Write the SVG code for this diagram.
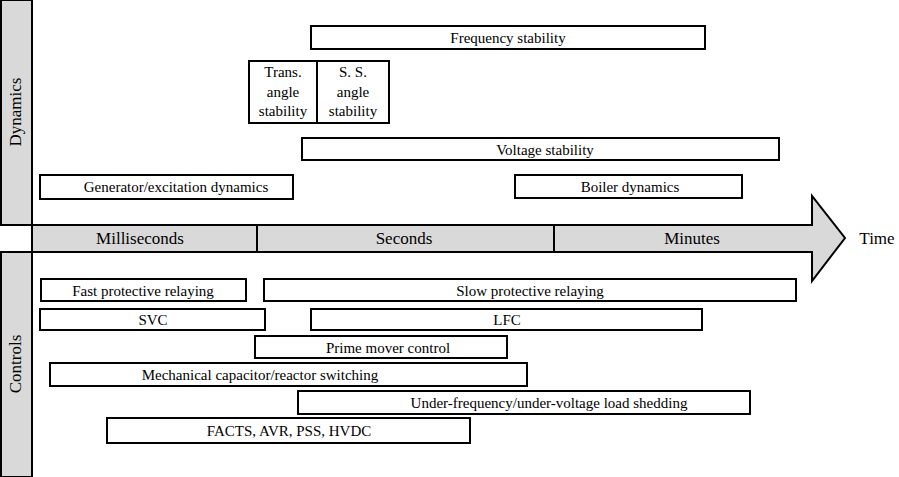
<svg xmlns="http://www.w3.org/2000/svg" width="899" height="477" viewBox="0 0 899 477">
<style>
text{font-family:"Liberation Serif","DejaVu Serif",serif;font-size:15px;fill:#000;text-anchor:middle}
.b{fill:#fff;stroke:#000;stroke-width:2}
.g{fill:#d9d9d9;stroke:#000;stroke-width:2}
.big{font-size:17px}
</style>
<rect width="899" height="477" fill="#fff"/>
<g id="dynamics"><rect class="g" x="1" y="0" width="31" height="225"/><text class="big" transform="translate(21,112) rotate(-90)">Dynamics</text></g>
<g id="controls"><rect class="g" x="1" y="252" width="31" height="225"/><text class="big" transform="translate(21,364) rotate(-90)">Controls</text></g>
<g id="timeaxis">
<path class="g" d="M32,225 H812 V196 L845,238 L812,281 V252 H32 Z"/>
<line x1="257" y1="225" x2="257" y2="252" stroke="#000" stroke-width="2"/>
<line x1="554" y1="225" x2="554" y2="252" stroke="#000" stroke-width="2"/>
<text class="big" x="140" y="244">Milliseconds</text>
<text class="big" x="404" y="244">Seconds</text>
<text class="big" x="692" y="244">Minutes</text>
<text class="big" x="877" y="244">Time</text>
</g>
<g id="freq"><rect class="b" x="311" y="26" width="394" height="23"/><text x="508" y="43">Frequency stability</text></g>
<g id="trans"><rect class="b" x="249" y="61" width="68" height="62"/><text x="283" y="77">Trans.</text><text x="283" y="97">angle</text><text x="283" y="116">stability</text></g>
<g id="ss"><rect class="b" x="317" y="61" width="72" height="62"/><text x="353" y="77">S. S.</text><text x="353" y="97">angle</text><text x="353" y="116">stability</text></g>
<g id="volt"><rect class="b" x="302" y="138" width="477" height="22"/><text x="545" y="155">Voltage stability</text></g>
<g id="gen"><rect class="b" x="40" y="175" width="253" height="24"/><text x="176" y="192">Generator/excitation dynamics</text></g>
<g id="boiler"><rect class="b" x="515" y="175" width="227" height="23"/><text x="630" y="192">Boiler dynamics</text></g>
<g id="fast"><rect class="b" x="41" y="279" width="205" height="22"/><text x="143" y="296">Fast protective relaying</text></g>
<g id="slow"><rect class="b" x="264" y="279" width="532" height="22"/><text x="530" y="296">Slow protective relaying</text></g>
<g id="svc"><rect class="b" x="40" y="309" width="225" height="21"/><text x="153" y="325">SVC</text></g>
<g id="lfc"><rect class="b" x="311" y="309" width="391" height="21"/><text x="507" y="325">LFC</text></g>
<g id="prime"><rect class="b" x="255" y="336" width="252" height="22"/><text x="388" y="353">Prime mover control</text></g>
<g id="mech"><rect class="b" x="50" y="363" width="477" height="23"/><text x="260" y="380">Mechanical capacitor/reactor switching</text></g>
<g id="ufls"><rect class="b" x="298" y="391" width="452" height="23"/><text x="549" y="408">Under-frequency/under-voltage load shedding</text></g>
<g id="facts"><rect class="b" x="107" y="418" width="363" height="25"/><text x="289" y="436">FACTS, AVR, PSS, HVDC</text></g>
<g id="connectors"/>
</svg>
